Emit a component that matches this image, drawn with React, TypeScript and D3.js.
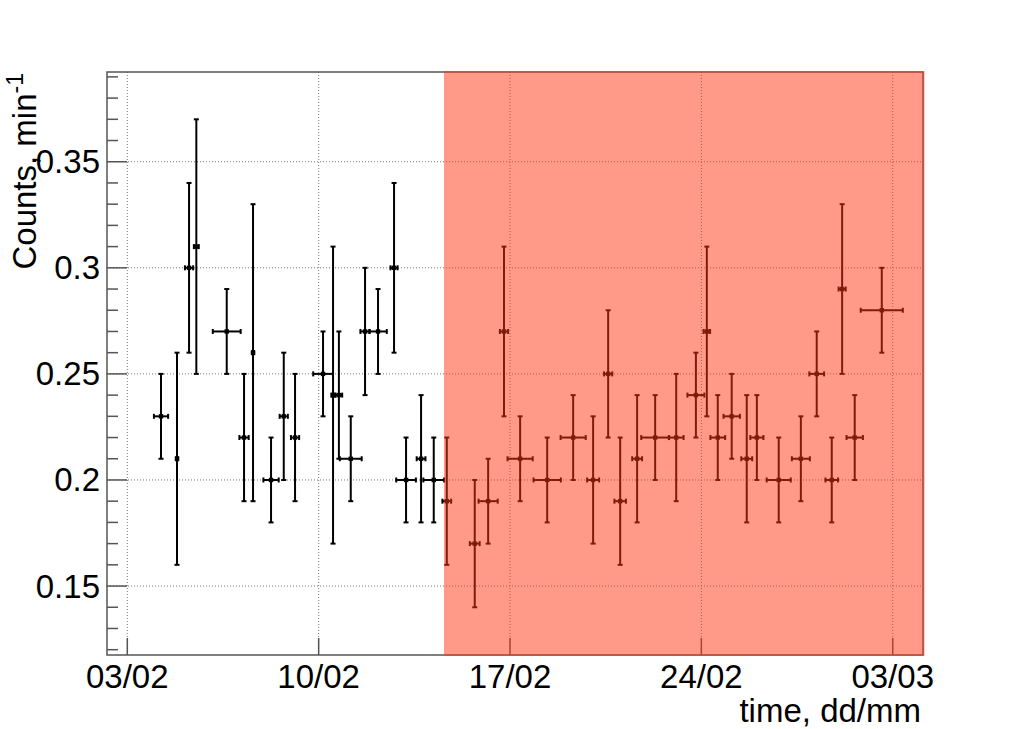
import { useEffect, useRef } from "react";
import * as d3 from "d3";

const W = 1027;
const H = 729;
const DAY = 86400000;
const BASE = Date.UTC(2021, 1, 3); // 03/02

// bins: centre and half width in days after 03/02 00:00
const binCenter = [
  1.233, 1.818, 2.258, 2.525, 3.637, 4.27, 4.599, 5.258, 5.723, 6.136,
  7.16, 7.526, 7.74, 8.174, 8.697, 9.172, 9.758, 10.197, 10.746, 11.21,
  11.687, 12.71, 13.2, 13.78, 14.37, 15.36, 16.31, 17.04, 17.59, 18.03,
  18.65, 19.31, 20.08, 20.8, 21.2, 21.6, 22.11, 22.66, 23.03, 23.83,
  24.64, 25.22, 25.77, 26.15, 26.61, 27.6,
];
const binHalf = [
  0.26, 0.04, 0.15, 0.09, 0.51, 0.17, 0.04, 0.28, 0.15, 0.15,
  0.36, 0.06, 0.12, 0.4, 0.17, 0.32, 0.13, 0.36, 0.16, 0.38,
  0.16, 0.18, 0.35, 0.15, 0.46, 0.5, 0.46, 0.22, 0.15, 0.21,
  0.18, 0.51, 0.27, 0.31, 0.12, 0.27, 0.3, 0.2, 0.24, 0.44,
  0.33, 0.27, 0.23, 0.13, 0.3, 0.77,
];
const rate = [
  0.23, 0.21, 0.3, 0.31, 0.27, 0.22, 0.26, 0.2, 0.23, 0.22,
  0.25, 0.24, 0.24, 0.21, 0.27, 0.27, 0.3, 0.2, 0.21, 0.2,
  0.19, 0.17, 0.19, 0.27, 0.21, 0.2, 0.22, 0.2, 0.25, 0.19,
  0.21, 0.22, 0.22, 0.24, 0.27, 0.22, 0.23, 0.21, 0.22, 0.2,
  0.21, 0.25, 0.2, 0.29, 0.22, 0.28,
];
const rateLow = [
  0.21, 0.16, 0.26, 0.25, 0.25, 0.19, 0.19, 0.18, 0.2, 0.19,
  0.23, 0.17, 0.21, 0.19, 0.24, 0.25, 0.26, 0.18, 0.18, 0.18,
  0.16, 0.14, 0.17, 0.23, 0.19, 0.18, 0.2, 0.17, 0.22, 0.16,
  0.18, 0.2, 0.19, 0.22, 0.23, 0.2, 0.21, 0.18, 0.2, 0.18,
  0.19, 0.23, 0.18, 0.25, 0.2, 0.26,
];
const rateHigh = [
  0.25, 0.26, 0.34, 0.37, 0.29, 0.25, 0.33, 0.22, 0.26, 0.25,
  0.27, 0.31, 0.27, 0.23, 0.3, 0.29, 0.34, 0.22, 0.24, 0.22,
  0.22, 0.2, 0.21, 0.31, 0.23, 0.22, 0.24, 0.23, 0.28, 0.22,
  0.24, 0.24, 0.25, 0.26, 0.31, 0.24, 0.25, 0.24, 0.24, 0.22,
  0.23, 0.27, 0.22, 0.33, 0.24, 0.3,
];

const xTickDays = [0, 7, 14, 21, 28];
const yMajor = [0.15, 0.2, 0.25, 0.3, 0.35];
const highlightFrom = 11.585; // days after 03/02

const FONT = "'Liberation Sans', Arial, Helvetica, sans-serif";

export default function App() {
  const svgRef = useRef<SVGSVGElement>(null);

  useEffect(() => {
    if (!svgRef.current) return;
    const svg = d3.select(svgRef.current);
    svg.selectAll("*").remove();

    const L = 107, R = 923, T = 72, B = 655;
    const day = (d: number) => new Date(BASE + d * DAY);

    const x = d3.scaleUtc().domain([day(-0.743), day(29.108)]).range([L, R]);
    const y = d3.scaleLinear().domain([0.1175, 0.3923]).range([B, T]);

    const g = svg.append("g");

    // grid
    g.selectAll(".gx")
      .data(xTickDays)
      .enter()
      .append("line")
      .attr("x1", (d) => x(day(d)))
      .attr("x2", (d) => x(day(d)))
      .attr("y1", T)
      .attr("y2", B)
      .attr("stroke", "#777")
      .attr("stroke-width", 1)
      .attr("stroke-dasharray", "1,2");
    g.selectAll(".gy")
      .data(yMajor)
      .enter()
      .append("line")
      .attr("x1", L)
      .attr("x2", R)
      .attr("y1", (d) => y(d))
      .attr("y2", (d) => y(d))
      .attr("stroke", "#777")
      .attr("stroke-width", 1)
      .attr("stroke-dasharray", "1,2");

    // frame
    g.append("rect")
      .attr("x", L)
      .attr("y", T)
      .attr("width", R - L)
      .attr("height", B - T)
      .attr("fill", "none")
      .attr("stroke", "#555")
      .attr("stroke-width", 1.5);

    // y ticks
    const yMinor = d3.range(12, 40).map((v) => v / 100);
    g.selectAll(".ty")
      .data(yMinor)
      .enter()
      .append("line")
      .attr("x1", L)
      .attr("x2", (d) => (yMajor.some((m) => Math.abs(m - d) < 1e-6) ? L + 20 : L + 11))
      .attr("y1", (d) => y(d))
      .attr("y2", (d) => y(d))
      .attr("stroke", "#555")
      .attr("stroke-width", 1.5);

    // x ticks
    g.selectAll(".tx")
      .data(xTickDays)
      .enter()
      .append("line")
      .attr("x1", (d) => x(day(d)))
      .attr("x2", (d) => x(day(d)))
      .attr("y1", B)
      .attr("y2", B - 17)
      .attr("stroke", "#555")
      .attr("stroke-width", 1.5);

    // error bars
    const idx = d3.range(rate.length);
    const pts = g.selectAll(".pt").data(idx).enter().append("g");
    const cap = 2.5;
    const bar = (sel: any, fn: (i: number) => [number, number, number, number]) =>
      sel
        .append("line")
        .attr("x1", (i: number) => fn(i)[0])
        .attr("y1", (i: number) => fn(i)[1])
        .attr("x2", (i: number) => fn(i)[2])
        .attr("y2", (i: number) => fn(i)[3])
        .attr("stroke", "#000")
        .attr("stroke-width", 2);

    const cx = (i: number) => x(day(binCenter[i]));
    const x0 = (i: number) => x(day(binCenter[i] - binHalf[i]));
    const x1 = (i: number) => x(day(binCenter[i] + binHalf[i]));
    bar(pts, (i) => [cx(i), y(rateLow[i]), cx(i), y(rateHigh[i])]);
    bar(pts, (i) => [x0(i), y(rate[i]), x1(i), y(rate[i])]);
    bar(pts, (i) => [cx(i) - cap, y(rateLow[i]), cx(i) + cap, y(rateLow[i])]);
    bar(pts, (i) => [cx(i) - cap, y(rateHigh[i]), cx(i) + cap, y(rateHigh[i])]);
    bar(pts, (i) => [x0(i), y(rate[i]) - cap, x0(i), y(rate[i]) + cap]);
    bar(pts, (i) => [x1(i), y(rate[i]) - cap, x1(i), y(rate[i]) + cap]);
    pts
      .append("rect")
      .attr("x", (i: number) => cx(i) - 2.2)
      .attr("y", (i: number) => y(rate[i]) - 2.2)
      .attr("width", 4.4)
      .attr("height", 4.4)
      .attr("fill", "#000");

    // highlighted period
    g.append("rect")
      .attr("x", x(day(highlightFrom)))
      .attr("y", T - 1)
      .attr("width", R + 1.5 - x(day(highlightFrom)))
      .attr("height", B - T + 2)
      .attr("fill", "#ff3311")
      .attr("fill-opacity", 0.5);

    // tick labels
    g.selectAll(".lx")
      .data(xTickDays)
      .enter()
      .append("text")
      .attr("x", (d) => x(day(d)))
      .attr("y", 688)
      .attr("text-anchor", "middle")
      .attr("font-family", FONT)
      .attr("font-size", 33)
      .attr("fill", "#000")
      .text((d) => d3.utcFormat("%d/%m")(day(d)));
    g.selectAll(".ly")
      .data(yMajor)
      .enter()
      .append("text")
      .attr("x", 100)
      .attr("y", (d) => y(d) + 11.5)
      .attr("text-anchor", "end")
      .attr("font-family", FONT)
      .attr("font-size", 33)
      .attr("fill", "#000")
      .text((d) => String(d));

    // axis titles
    g.append("text")
      .attr("x", 921)
      .attr("y", 722)
      .attr("text-anchor", "end")
      .attr("font-family", FONT)
      .attr("font-size", 33)
      .attr("fill", "#000")
      .text("time, dd/mm");

    const yt = g
      .append("text")
      .attr("transform", `translate(36,${T + 1}) rotate(-90)`)
      .attr("text-anchor", "end")
      .attr("font-family", FONT)
      .attr("font-size", 33)
      .attr("fill", "#000");
    yt.append("tspan").text("Counts, min");
    yt.append("tspan").attr("dy", -13).attr("font-size", 23).text("-1");
  }, []);

  return (
    <svg
      ref={svgRef}
      width={W}
      height={H}
      style={{ position: "absolute", left: 0, top: 0, background: "#fff" }}
    />
  );
}
